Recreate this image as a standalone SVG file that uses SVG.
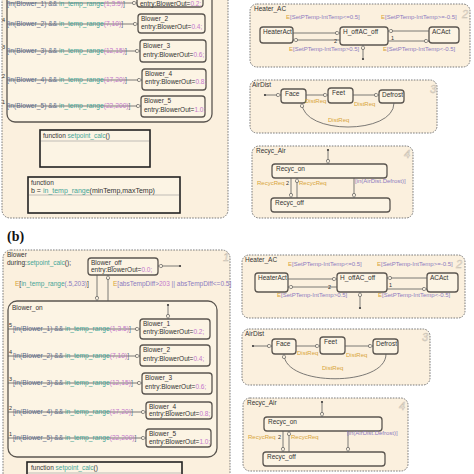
<svg xmlns="http://www.w3.org/2000/svg" width="474" height="474" viewBox="0 0 474 474">
<style>
.pn{fill:#fbf0de;stroke:#7a7a7a;stroke-width:1;stroke-dasharray:1.6 1.2}
.st{fill:#fcf4e4;stroke:#5b5650;stroke-width:1.3}
.fn{fill:#fcf4e4;stroke:#222;stroke-width:1.6}
.hl{stroke:#999;stroke-width:0.6}
.t{font-family:"Liberation Sans",Arial,sans-serif;font-size:6.5px;fill:#333}
.r{font-family:"Liberation Sans",Arial,sans-serif;font-size:6.7px;fill:#5a6a8c}
.c{font-family:"Liberation Sans",Arial,sans-serif;font-size:6px;fill:#8b7bc0}
.n{font-family:"Liberation Sans",Arial,sans-serif;font-size:11px;font-style:italic;fill:#fbf0de;stroke:#c8c0b4;stroke-width:0.5}
.g{fill:#d8a53a}
.tl{fill:#45a597}
.m{fill:#c478cc}
.p{fill:#8b7bc0}
.k{fill:#333}
.ln{fill:none;stroke:#5a5a5a;stroke-width:0.8}
.dot{fill:#333}
</style>
<defs>
<marker id="ah" viewBox="0 0 6 6" refX="6" refY="3" markerWidth="5" markerHeight="5" orient="auto" markerUnits="userSpaceOnUse">
<path d="M6,3 L2.5,1 A2,2 0 0 0 2.5,5 Z" fill="#fcf4e4" stroke="#555" stroke-width="0.8"/>
</marker>
</defs>
<rect width="474" height="474" fill="#fff"/>

<!-- ===== Panel (a) ===== -->
<g id="a-blower">
<rect class="pn" x="2" y="-10" width="226" height="228" rx="8"/>
</g>
<g id="a-blower_on">
<rect class="st" x="7" y="-10" width="205" height="132" rx="8"/>
</g>
<g id="a-blower_1">
<rect class="st" x="137" y="-14" width="66" height="21" rx="3"/>
<text class="t" x="140" y="5.5">entry:BlowerOut=<tspan class="m">0.2;</tspan></text>
</g>
<g id="a-blower_2">
<rect class="st" x="138" y="14" width="67" height="19" rx="3"/>
<text class="t" x="141" y="21">Blower_2</text>
<text class="t" x="141" y="29">entry:BlowerOut=<tspan class="m">0.4;</tspan></text>
</g>
<g id="a-blower_3">
<rect class="st" x="140" y="40" width="66" height="22" rx="3"/>
<text class="t" x="143" y="48">Blower_3</text>
<text class="t" x="143" y="57">entry:BlowerOut=<tspan class="m">0.6;</tspan></text>
</g>
<g id="a-blower_4">
<rect class="st" x="142" y="69" width="64" height="21" rx="3"/>
<text class="t" x="145" y="76">Blower_4</text>
<text class="t" x="145" y="84">entry:BlowerOut=<tspan class="m">0.8;</tspan></text>
</g>
<g id="a-blower_5">
<rect class="st" x="141" y="96" width="64" height="21" rx="3"/>
<text class="t" x="144" y="103">Blower_5</text>
<text class="t" x="144" y="112">entry:BlowerOut=<tspan class="m">1.0;</tspan></text>
</g>
<g id="a-fn-setpoint">
<rect class="fn" x="40" y="130" width="110" height="37"/>
<line class="hl" x1="41" y1="141" x2="149" y2="141"/>
<text class="t" x="43" y="138">function  <tspan class="tl">setpoint_calc</tspan>()</text>
</g>
<g id="a-fn-range">
<rect class="fn" x="28" y="177" width="152" height="36"/>
<line class="hl" x1="29" y1="195" x2="179" y2="195"/>
<text class="t" x="31" y="185">function</text>
<text class="t" x="31" y="193" style="font-size:7px">b = <tspan class="tl">in_temp_range</tspan>(minTemp,maxTemp)</text>
</g>

<g id="a-heater_ac">
<rect class="pn" x="250" y="4" width="220" height="63" rx="7"/>
<text class="t" x="254" y="11">Heater_AC</text>
<text class="n" x="462" y="18">2</text>
</g>
<g id="a-heateract">
<rect class="st" x="260" y="27" width="33" height="16" rx="3"/>
<text class="t" x="263" y="34">HeaterAct</text>
</g>
<g id="a-hoff">
<rect class="st" x="340" y="27" width="48" height="18" rx="3"/>
<text class="t" x="343" y="34">H_offAC_off</text>
</g>
<g id="a-acact">
<rect class="st" x="429" y="27" width="30" height="16" rx="3"/>
<text class="t" x="432" y="34">ACAct</text>
</g>

<g id="a-airdist">
<rect class="pn" x="250" y="80" width="187" height="53" rx="7"/>
<text class="t" x="252" y="87">AirDist</text>
<text class="n" x="430" y="93">3</text>
</g>
<g id="a-face">
<rect class="st" x="281" y="89" width="25" height="14" rx="3"/>
<text class="t" x="285" y="96">Face</text>
</g>
<g id="a-feet">
<rect class="st" x="328" y="88" width="25" height="15" rx="3"/>
<text class="t" x="332" y="95">Feet</text>
</g>
<g id="a-defrost">
<rect class="st" x="379" y="90" width="25" height="13" rx="3"/>
<text class="t" x="382" y="97">Defrost</text>
</g>

<g id="a-recyc_air">
<rect class="pn" x="252" y="146" width="161" height="72" rx="7"/>
<text class="t" x="256" y="153">Recyc_Air</text>
<text class="n" x="404" y="158">4</text>
</g>
<g id="a-recyc_on">
<rect class="st" x="272" y="164" width="115" height="14" rx="3"/>
<text class="t" x="276" y="171">Recyc_on</text>
</g>
<g id="a-recyc_off">
<rect class="st" x="271" y="198" width="119" height="14" rx="3"/>
<text class="t" x="275" y="205">Recyc_off</text>
</g>

<text x="7" y="241" style="font-family:'Liberation Serif',serif;font-weight:bold;font-size:14px;fill:#111">(b)</text>

<!-- ===== Panel (b) ===== -->
<g id="b-blower">
<rect class="pn" x="3" y="250" width="227" height="240" rx="8"/>
<text class="t" x="7" y="257">Blower</text>
<text class="t" x="7" y="265">during:<tspan class="tl">setpoint_calc</tspan>();</text>
<text class="n" x="223" y="261">1</text>
</g>
<g id="b-blower_off">
<rect class="st" x="88" y="258" width="70" height="17" rx="3"/>
<text class="t" x="91" y="265">Blower_off</text>
<text class="t" x="91" y="272">entry:BlowerOut=<tspan class="m">0.0;</tspan></text>
</g>
<g id="b-blower_on">
<rect class="st" x="8" y="301" width="209" height="156" rx="9"/>
<text class="t" x="12" y="310">Blower_on</text>
</g>
<g id="b-blower_1">
<rect class="st" x="140" y="319" width="70" height="20" rx="3"/>
<text class="t" x="143" y="326">Blower_1</text>
<text class="t" x="143" y="334">entry:BlowerOut=<tspan class="m">0.2;</tspan></text>
</g>
<g id="b-blower_2">
<rect class="st" x="140" y="345" width="70" height="21" rx="3"/>
<text class="t" x="143" y="352">Blower_2</text>
<text class="t" x="143" y="361">entry:BlowerOut=<tspan class="m">0.4;</tspan></text>
</g>
<g id="b-blower_3">
<rect class="st" x="142" y="373" width="70" height="21" rx="3"/>
<text class="t" x="145" y="380">Blower_3</text>
<text class="t" x="145" y="389">entry:BlowerOut=<tspan class="m">0.6;</tspan></text>
</g>
<g id="b-blower_4">
<rect class="st" x="146" y="402" width="66" height="17" rx="3"/>
<text class="t" x="149" y="409">Blower_4</text>
<text class="t" x="149" y="416">entry:BlowerOut=<tspan class="m">0.8;</tspan></text>
</g>
<g id="b-blower_5">
<rect class="st" x="146" y="429" width="65" height="18" rx="3"/>
<text class="t" x="149" y="436">Blower_5</text>
<text class="t" x="149" y="444">entry:BlowerOut=<tspan class="m">1.0;</tspan></text>
</g>
<g id="b-fn-setpoint">
<rect class="fn" x="27" y="462" width="155" height="20"/>
<line class="hl" x1="28" y1="473" x2="181" y2="473"/>
<text class="t" x="31" y="470">function  <tspan class="tl">setpoint_calc</tspan>()</text>
</g>

<g id="b-heater_ac">
<rect class="pn" x="242" y="255" width="223" height="63" rx="7"/>
<text class="t" x="245" y="262">Heater_AC</text>
<text class="n" x="456" y="268">2</text>
</g>
<g id="b-heateract">
<rect class="st" x="255" y="273" width="33" height="19" rx="3"/>
<text class="t" x="258" y="280">HeaterAct</text>
</g>
<g id="b-hoff">
<rect class="st" x="337" y="273" width="50" height="19" rx="3"/>
<text class="t" x="340" y="280">H_offAC_off</text>
</g>
<g id="b-acact">
<rect class="st" x="427" y="273" width="31" height="19" rx="3"/>
<text class="t" x="430" y="280">ACAct</text>
</g>

<g id="b-airdist">
<rect class="pn" x="242" y="329" width="188" height="56" rx="7"/>
<text class="t" x="245" y="336">AirDist</text>
<text class="n" x="422" y="341">3</text>
</g>
<g id="b-face">
<rect class="st" x="272" y="339" width="24" height="15" rx="3"/>
<text class="t" x="276" y="346">Face</text>
</g>
<g id="b-feet">
<rect class="st" x="320" y="337" width="25" height="17" rx="3"/>
<text class="t" x="324" y="344">Feet</text>
</g>
<g id="b-defrost">
<rect class="st" x="373" y="339" width="25" height="15" rx="3"/>
<text class="t" x="376" y="346">Defrost</text>
</g>

<g id="b-recyc_air">
<rect class="pn" x="243" y="398" width="165" height="73" rx="7"/>
<text class="t" x="247" y="405">Recyc_Air</text>
<text class="n" x="399" y="410">4</text>
</g>
<g id="b-recyc_on">
<rect class="st" x="264" y="417" width="118" height="14" rx="3"/>
<text class="t" x="268" y="424">Recyc_on</text>
</g>
<g id="b-recyc_off">
<rect class="st" x="263" y="452" width="122" height="14" rx="3"/>
<text class="t" x="267" y="459">Recyc_off</text>
</g>

<!-- ===== Connectors ===== -->
<g id="connectors">
<!-- panel a, blower rows -->
<line class="ln" x1="7" y1="3" x2="137" y2="3" marker-end="url(#ah)"/>
<line class="ln" x1="7" y1="24" x2="138" y2="24" marker-end="url(#ah)"/>
<line class="ln" x1="7" y1="51" x2="140" y2="51" marker-end="url(#ah)"/>
<line class="ln" x1="7" y1="80" x2="142" y2="80" marker-end="url(#ah)"/>
<line class="ln" x1="7" y1="106" x2="141" y2="106" marker-end="url(#ah)"/>
<!-- Heater_AC a -->
<line class="ln" x1="293" y1="33" x2="340" y2="33" marker-end="url(#ah)"/>
<line class="ln" x1="340" y1="40" x2="293" y2="40" marker-end="url(#ah)"/>
<line class="ln" x1="429" y1="31" x2="388" y2="31" marker-end="url(#ah)"/>
<line class="ln" x1="388" y1="41" x2="429" y2="41" marker-end="url(#ah)"/>
<circle class="dot" cx="363" cy="59" r="1.1"/>
<line class="ln" x1="363" y1="59" x2="363" y2="45" marker-end="url(#ah)"/>
<!-- AirDist a -->
<circle class="dot" cx="265" cy="95" r="1.1"/>
<line class="ln" x1="265" y1="95" x2="281" y2="95" marker-end="url(#ah)"/>
<line class="ln" x1="306" y1="95" x2="328" y2="95" marker-end="url(#ah)"/>
<line class="ln" x1="353" y1="95" x2="379" y2="95" marker-end="url(#ah)"/>
<path class="ln" d="M394,103 C394,135 302,135 302,103" marker-end="url(#ah)"/>
<!-- Recyc a -->
<circle class="dot" cx="328" cy="150" r="1.1"/>
<line class="ln" x1="328" y1="150" x2="328" y2="164" marker-end="url(#ah)"/>
<line class="ln" x1="291" y1="178" x2="291" y2="198" marker-end="url(#ah)"/>
<line class="ln" x1="297" y1="198" x2="297" y2="178" marker-end="url(#ah)"/>
<line class="ln" x1="354" y1="178" x2="354" y2="198" marker-end="url(#ah)"/>

<!-- panel b blower -->
<circle class="dot" cx="180" cy="266" r="1.1"/>
<line class="ln" x1="180" y1="266" x2="158" y2="266" marker-end="url(#ah)"/>
<line class="ln" x1="97" y1="275" x2="97" y2="301" marker-end="url(#ah)"/>
<line class="ln" x1="108" y1="301" x2="108" y2="275" marker-end="url(#ah)"/>
<circle class="dot" cx="168" cy="305" r="1.1"/>
<line class="ln" x1="168" y1="305" x2="168" y2="319" marker-end="url(#ah)"/>
<line class="ln" x1="8" y1="329" x2="140" y2="329" marker-end="url(#ah)"/>
<line class="ln" x1="8" y1="356" x2="140" y2="356" marker-end="url(#ah)"/>
<line class="ln" x1="8" y1="383" x2="142" y2="383" marker-end="url(#ah)"/>
<line class="ln" x1="8" y1="412" x2="146" y2="412" marker-end="url(#ah)"/>
<line class="ln" x1="8" y1="438" x2="146" y2="438" marker-end="url(#ah)"/>
<!-- Heater_AC b -->
<line class="ln" x1="288" y1="279" x2="337" y2="279" marker-end="url(#ah)"/>
<line class="ln" x1="337" y1="287" x2="288" y2="287" marker-end="url(#ah)"/>
<line class="ln" x1="427" y1="278" x2="387" y2="278" marker-end="url(#ah)"/>
<line class="ln" x1="387" y1="289" x2="427" y2="289" marker-end="url(#ah)"/>
<circle class="dot" cx="360" cy="308" r="1.1"/>
<line class="ln" x1="360" y1="308" x2="360" y2="292" marker-end="url(#ah)"/>
<!-- AirDist b -->
<circle class="dot" cx="253" cy="346" r="1.1"/>
<line class="ln" x1="253" y1="346" x2="272" y2="346" marker-end="url(#ah)"/>
<line class="ln" x1="296" y1="346" x2="320" y2="346" marker-end="url(#ah)"/>
<line class="ln" x1="345" y1="346" x2="373" y2="346" marker-end="url(#ah)"/>
<path class="ln" d="M386,354 C386,387 284,387 284,354" marker-end="url(#ah)"/>
<!-- Recyc b -->
<circle class="dot" cx="322" cy="402" r="1.1"/>
<line class="ln" x1="322" y1="402" x2="322" y2="417" marker-end="url(#ah)"/>
<line class="ln" x1="283" y1="431" x2="283" y2="452" marker-end="url(#ah)"/>
<line class="ln" x1="289" y1="452" x2="289" y2="431" marker-end="url(#ah)"/>
<line class="ln" x1="348" y1="431" x2="348" y2="452" marker-end="url(#ah)"/>
</g>

<!-- ===== Transition labels ===== -->
<g id="labels">
<!-- a rows -->
<text class="r" x="7" y="6">[in(Blower_1) &amp;&amp; <tspan class="tl">in_temp_range</tspan><tspan class="m">(1,3.5)</tspan>]</text>
<text class="t" x="2" y="22" style="font-size:5.5px">4</text>
<text class="r" x="7" y="26">[in(Blower_2) &amp;&amp; <tspan class="tl">in_temp_range</tspan><tspan class="m">(7,10)</tspan>]</text>
<text class="t" x="2" y="49" style="font-size:5.5px">3</text>
<text class="r" x="7" y="53">[in(Blower_3) &amp;&amp; <tspan class="tl">in_temp_range</tspan><tspan class="m">(12,15)</tspan>]</text>
<text class="t" x="2" y="78" style="font-size:5.5px">2</text>
<text class="r" x="7" y="82">[in(Blower_4) &amp;&amp; <tspan class="tl">in_temp_range</tspan><tspan class="m">(17,20)</tspan>]</text>
<text class="t" x="2" y="104" style="font-size:5.5px">1</text>
<text class="r" x="7" y="108">[in(Blower_5) &amp;&amp; <tspan class="tl">in_temp_range</tspan><tspan class="m">(22,200)</tspan>]</text>
<!-- Heater_AC a -->
<text class="c" x="286" y="19"><tspan class="g">E</tspan>[SetPTemp-IntTemp&lt;=0.5]</text>
<text class="c" x="381" y="19"><tspan class="g">E</tspan>[SetPTemp-IntTemp&gt;=-0.5]</text>
<text class="c" x="289" y="51"><tspan class="g">E</tspan>[SetPTemp-IntTemp&gt;0.5]</text>
<text class="c" x="383" y="51"><tspan class="g">E</tspan>[SetPTemp-IntTemp&lt;-0.5]</text>
<text class="t" x="334" y="43" style="font-size:5.5px">2</text>
<text class="t" x="391" y="40" style="font-size:5.5px">1</text>
<!-- AirDist a -->
<text class="c g" x="305" y="103">DistReq</text>
<text class="c g" x="354" y="106">DistReq</text>
<text class="c g" x="328" y="122">DistReq</text>
<!-- Recyc a -->
<text class="c g" x="257" y="185">RecycReq</text>
<text class="t" x="286" y="185" style="font-size:5.5px">2</text>
<text class="c g" x="299" y="185">RecycReq</text>
<text class="c" x="355" y="183">[in(AirDist.Defrost)]</text>

<!-- b blower -->
<text class="c" x="15" y="286" style="font-size:6.5px"><tspan class="g">E</tspan><tspan class="k">[</tspan><tspan class="tl">in_temp_range</tspan>(.5,203)<tspan class="k">]</tspan></text>
<text class="c" x="113" y="286" style="font-size:6.5px"><tspan class="g">E</tspan>[absTempDiff&gt;<tspan class="m">203</tspan> || absTempDiff&lt;=0.5]</text>
<text class="t" x="9" y="327" style="font-size:5.5px">5</text>
<text class="r" x="13" y="331">[in(Blower_1) &amp;&amp; <tspan class="tl">in_temp_range</tspan><tspan class="m">(1,3.5)</tspan>]</text>
<text class="t" x="9" y="354" style="font-size:5.5px">4</text>
<text class="r" x="13" y="358">[in(Blower_2) &amp;&amp; <tspan class="tl">in_temp_range</tspan><tspan class="m">(7,10)</tspan>]</text>
<text class="t" x="9" y="381" style="font-size:5.5px">3</text>
<text class="r" x="13" y="385">[in(Blower_3) &amp;&amp; <tspan class="tl">in_temp_range</tspan><tspan class="m">(12,15)</tspan>]</text>
<text class="t" x="9" y="410" style="font-size:5.5px">2</text>
<text class="r" x="13" y="414">[in(Blower_4) &amp;&amp; <tspan class="tl">in_temp_range</tspan><tspan class="m">(17,20)</tspan>]</text>
<text class="t" x="9" y="436" style="font-size:5.5px">1</text>
<text class="r" x="13" y="440">[in(Blower_5) &amp;&amp; <tspan class="tl">in_temp_range</tspan><tspan class="m">(22,200)</tspan>]</text>
<!-- Heater_AC b -->
<text class="c" x="288" y="266"><tspan class="g">E</tspan>[SetPTemp-IntTemp&lt;=0.5]</text>
<text class="c" x="377" y="266"><tspan class="g">E</tspan>[SetPTemp-IntTemp&gt;=-0.5]</text>
<text class="c" x="277" y="297"><tspan class="g">E</tspan>[SetPTemp-IntTemp&gt;0.5]</text>
<text class="c" x="378" y="297"><tspan class="g">E</tspan>[SetPTemp-IntTemp&lt;-0.5]</text>
<text class="t" x="328" y="289" style="font-size:5.5px">2</text>
<text class="t" x="389" y="287" style="font-size:5.5px">1</text>
<!-- AirDist b -->
<text class="c g" x="297" y="355">DistReq</text>
<text class="c g" x="346" y="357">DistReq</text>
<text class="c g" x="322" y="370">DistReq</text>
<!-- Recyc b -->
<text class="c g" x="248" y="439">RecycReq</text>
<text class="t" x="278" y="439" style="font-size:5.5px">2</text>
<text class="c g" x="291" y="439">RecycReq</text>
<text class="c" x="347" y="435">[in(AirDist.Defrost)]</text>
</g>
</svg>
